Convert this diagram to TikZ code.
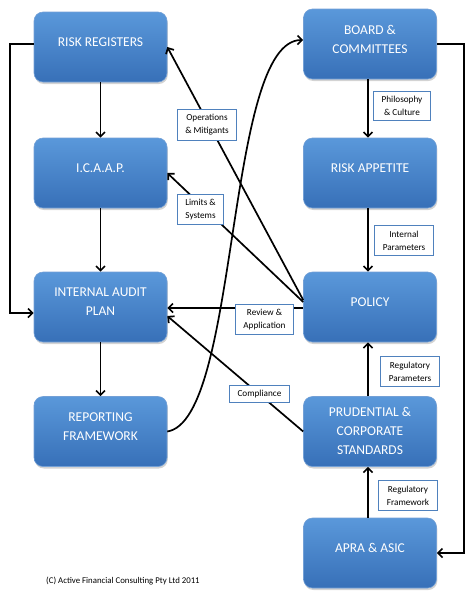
\documentclass[tikz,border=0pt]{standalone}
\usepackage{fontspec}
\setmainfont{Carlito}
\usetikzlibrary{arrows.meta,shadows,calc}
\definecolor{boxtop}{RGB}{90,152,218}
\definecolor{boxbot}{RGB}{55,112,184}
\definecolor{boxedge}{RGB}{115,160,214}
\definecolor{lblblue}{RGB}{79,129,189}
\tikzset{
  unit/.style={rectangle, rounded corners=9pt, minimum width=133pt, minimum height=70pt,
    top color=boxtop, bottom color=boxbot, draw=boxedge, line width=0.6pt,
    drop shadow={shadow xshift=0.8pt, shadow yshift=-2pt, opacity=0.35}},
  unittext/.style={text=white, font=\fontsize{13.5}{19}\selectfont, align=center, yshift=5pt},
  tag/.style={rectangle, fill=white, draw=lblblue, line width=1pt,
    font=\fontsize{9.2}{13}\selectfont, align=center, inner xsep=8pt, inner ysep=5pt, text=black},
  flow/.style={line width=1.7pt, -{Straight Barb[length=4.5pt,width=9pt]}}
}
\begin{document}
\begin{tikzpicture}[x=1pt,y=-1pt]
\useasboundingbox (0,0) rectangle (474,598);
% left column
\node[unit, label={[unittext, name=tRR]center:RISK REGISTERS}] (RR) at (100.5,47) {};
\node[unit, label={[unittext, name=tIC]center:I.C.A.A.P.}] (IC) at (100.5,173) {};
\node[unit, label={[unittext, name=tIA]center:INTERNAL AUDIT\\PLAN}] (IA) at (100.5,307) {};
\node[unit, label={[unittext, name=tRF]center:REPORTING\\FRAMEWORK}] (RF) at (100.5,431.5) {};
% right column
\node[unit, label={[unittext, name=tBC]center:BOARD \&\\COMMITTEES}] (BC) at (370,44) {};
\node[unit, label={[unittext, name=tRA]center:RISK APPETITE}] (RA) at (370,173) {};
\node[unit, label={[unittext, name=tPO]center:POLICY}] (PO) at (370,307) {};
\node[unit, label={[unittext, name=tPR, yshift=-4pt]center:PRUDENTIAL \&\\CORPORATE\\STANDARDS}] (PR) at (370,431.5) {};
\node[unit, label={[unittext, name=tAP]center:APRA \& ASIC}] (AP) at (370,553) {};
% connectors
\draw[flow] (RR) -- (IC);
\draw[flow] (IC) -- (IA);
\draw[flow] (IA) -- (RF);
\draw[flow] ([yshift=3pt]RR.west) -- ++(-24,0) |- ([yshift=-6pt]IA.west);
\draw[flow] (BC.east) -- ++(27,0) |- (AP.east);
\draw[flow] ([xshift=-2pt]BC.south) -- ([xshift=-2pt]RA.north);
\draw[flow] ([xshift=-2pt]RA.south) -- ([xshift=-2pt]PO.north);
\draw[flow] ([xshift=-2pt]PR.north) -- ([xshift=-2pt]PO.south);
\draw[flow] ([xshift=-2pt]AP.north) -- ([xshift=-2pt]PR.south);
\draw[flow] ([yshift=7pt]PO.west) -- (RR.east);
\draw[flow] ([yshift=5pt]PO.west) -- (IC.east);
\draw[flow] ([yshift=-1pt]PO.west) -- ([yshift=-1pt]IA.east);
\draw[flow] (PR.west) -- ([yshift=-9pt]IA.east);
\draw[flow] (RF.east) .. controls (240,420) and (225,40) .. ([yshift=4pt]BC.west);
% labels
\node[tag] (lOM) at (207,125) {Operations\\\& Mitigants};
\node[tag] (lLS) at (200.5,209.5) {Limits \&\\Systems};
\node[tag] (lPC) at (402,106) {Philosophy\\\& Culture};
\node[tag] (lIP) at (404,240.5) {Internal\\Parameters};
\node[tag] (lRA) at (264.5,319.5) {Review \&\\Application};
\node[tag] (lCO) at (259.5,394) {Compliance};
\node[tag] (lRP) at (410,371.5) {Regulatory\\Parameters};
\node[tag] (lRFw) at (408,495.5) {Regulatory\\Framework};
\node[font=\fontsize{8.8}{10}\selectfont, anchor=west, inner sep=0pt] (copy) at (46,581) {(C) Active Financial Consulting Pty Ltd 2011};
\end{tikzpicture}
\end{document}
